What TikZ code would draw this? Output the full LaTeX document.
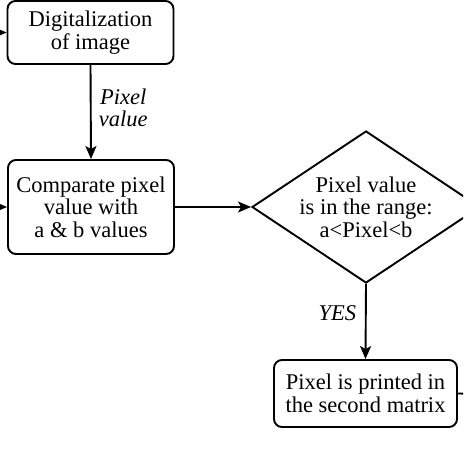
\documentclass[tikz,border=0pt]{standalone}
\usepackage{fontspec}
\setmainfont{Liberation Serif}
\usetikzlibrary{shapes.geometric, arrows.meta}

\tikzset{
  stepbox/.style={draw, line width=1.9pt, rounded corners=8pt, align=center, inner sep=0pt},
  flow/.style={line width=1.9pt, -{Stealth[length=13pt, width=11pt, inset=3pt]}},
  lbl/.style={font=\itshape, align=center, inner sep=0.75pt}
}

\begin{document}
\begin{tikzpicture}[x=1pt,y=1pt,yscale=-1,xscale=1]
\fontsize{22.5}{22.5}\selectfont
\useasboundingbox (0,0) rectangle (463,463);
\clip (0,0) rectangle (463,463);

%Shape: Rounded box [digit]
\node [stepbox, minimum width=166, minimum height=63] (digit) at (90.5,32.5) {Digitalization\\of image};
%Shape: Rounded box [comp]
\node [stepbox, minimum width=166, minimum height=94] (comp) at (91,207) {Comparate pixel\\value with\\a \& b values};
%Shape: Diamond [range]
\node [draw, diamond, line width=1.9pt, inner sep=0pt, minimum width=228, minimum height=152] (range) at (366,207) {};
\node [align=center, inner sep=0pt] (rangetxt) at (range.center) {Pixel value\\is in the range:\\a<Pixel<b};
%Shape: Rounded box [print]
\node [stepbox, minimum width=183, minimum height=67] (print) at (365.5,393.5) {Pixel is printed in\\the second matrix};

% free ends
\coordinate (indigit) at (-20,32.5);
\coordinate (incomp) at (-20,207);
\coordinate (outprint) at (490,394);

%Lines
\draw [flow] (indigit) -- (digit.west);
\draw [flow] (incomp) -- (comp.west);
\draw [flow] (digit.south) -- (comp.north);
\draw [flow] (comp.east) -- (range.west);
\draw [flow] (range.south) -- (print.north);
\draw [line width=1.9pt] (print.east) -- (outprint);

% Text Node
\node [lbl, anchor=west] (pixlbl) at (98,108) {Pixel\\value};
% Text Node
\node [lbl, anchor=east] (yeslbl) at (357,313) {YES};

\end{tikzpicture}
\end{document}
